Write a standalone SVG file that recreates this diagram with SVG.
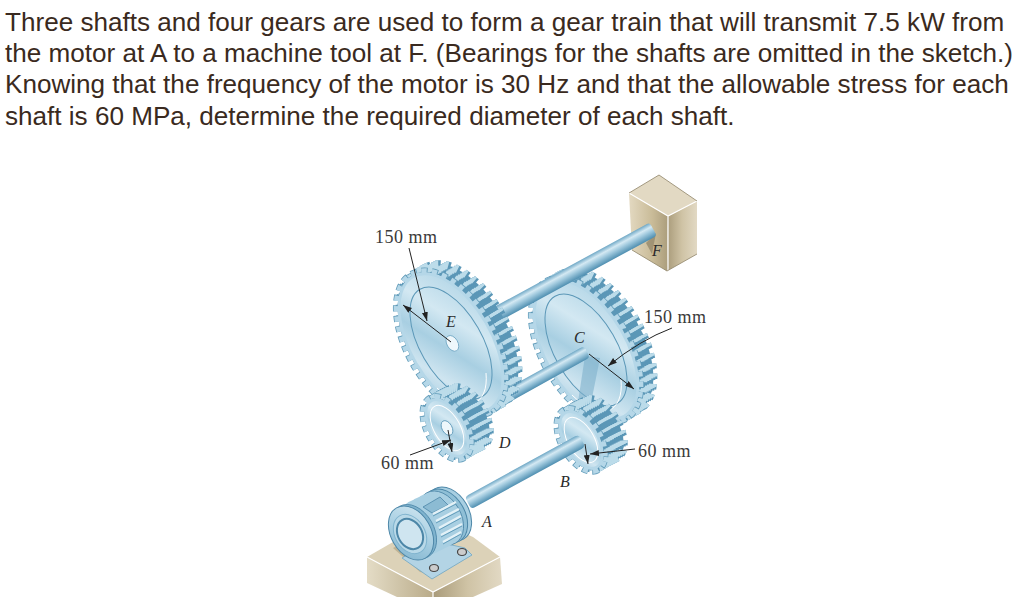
<svg xmlns="http://www.w3.org/2000/svg" xmlns:xlink="http://www.w3.org/1999/xlink" width="1024" height="597" viewBox="0 0 1024 597">
<style>
.h{font:26.1px "Liberation Sans",Arial,sans-serif;fill:#3a2a20}
.l{font:18px "Liberation Serif","Times New Roman",serif;fill:#3a3a3a;letter-spacing:.5px}
.i{font:italic 16px "Liberation Serif","Times New Roman",serif;fill:#2a2a2a}
.dark{fill:#5b97b7;stroke:#5b97b7;stroke-dasharray:1 1}
.land{fill:none;stroke:#bcdcea;stroke-dasharray:.55 1.45}
.edge{fill:#3f7a9c;stroke:#5f9ab8;stroke-dasharray:1.15 .85}
.front{fill:#b5d7e8;stroke:#b5d7e8;stroke-dasharray:1 1}
.annd{fill:none;stroke:#222;stroke-width:1;marker-end:url(#ah)}
</style>
<defs>
<marker id="ah" markerWidth="10" markerHeight="8" refX="9" refY="3" orient="auto" markerUnits="userSpaceOnUse"><path d="M0 0L9 3L0 6z" fill="#222"/></marker>
<linearGradient id="face" x1="0" y1="0" x2="1" y2="1">
<stop offset="0" stop-color="#a9d0e3"/><stop offset=".35" stop-color="#d3e8f2"/><stop offset=".55" stop-color="#a8cfe2"/><stop offset=".75" stop-color="#cfe5f0"/><stop offset="1" stop-color="#9cc6dc"/>
</linearGradient>
<linearGradient id="cyl" x1="0" y1="0" x2="0" y2="1">
<stop offset="0" stop-color="#6fa8c6"/><stop offset=".3" stop-color="#d4e9f3"/><stop offset=".55" stop-color="#a3cbdf"/><stop offset="1" stop-color="#4f8fb1"/>
</linearGradient>
<linearGradient id="sideL" x1="0" y1="0" x2="1" y2="0">
<stop offset="0" stop-color="#e3d9c1"/><stop offset=".6" stop-color="#c9bb98"/><stop offset="1" stop-color="#ab9d7c"/>
</linearGradient>
<linearGradient id="sideR" x1="0" y1="0" x2="1" y2="0">
<stop offset="0" stop-color="#a99b7a"/><stop offset=".5" stop-color="#cfc3a5"/><stop offset="1" stop-color="#e2d9c4"/>
</linearGradient>
<linearGradient id="baseL" x1="0" y1="0" x2="1" y2="0">
<stop offset="0" stop-color="#e4dcc6"/><stop offset="1" stop-color="#b9ab89"/>
</linearGradient>
<linearGradient id="mot" x1="0" y1="0" x2="1" y2="1">
<stop offset="0" stop-color="#d3e8f2"/><stop offset=".5" stop-color="#a8cfe2"/><stop offset="1" stop-color="#7fb3ce"/>
</linearGradient>
<ellipse id="bigT" rx="78" ry="42" transform="rotate(60)" pathLength="76"/>
<ellipse id="smallT" rx="33" ry="18" transform="rotate(60)" pathLength="34"/>
<ellipse id="bigF" rx="75" ry="39" transform="rotate(60)" fill="url(#face)" stroke="none"/>
<ellipse id="smallF" rx="30" ry="15" transform="rotate(60)" fill="url(#face)" stroke="none"/>
<g id="bigStack">
<g class="dark" stroke-width="8">
<use href="#bigT" x="14" y="-8"/><use href="#bigT" x="12" y="-7"/><use href="#bigT" x="10" y="-6"/><use href="#bigT" x="8" y="-4.5"/><use href="#bigT" x="6" y="-3.5"/><use href="#bigT" x="4" y="-2.3"/><use href="#bigT" x="2" y="-1.2"/>
</g>
<g class="land" stroke-width="8">
<use href="#bigT" x="14" y="-8"/><use href="#bigT" x="12" y="-7"/><use href="#bigT" x="10" y="-6"/><use href="#bigT" x="8" y="-4.5"/><use href="#bigT" x="6" y="-3.5"/><use href="#bigT" x="4" y="-2.3"/>
</g>
<use href="#bigT" class="edge" stroke-width="9.5"/>
<use href="#bigT" class="front" stroke-width="8"/>
<use href="#bigF"/>
</g>
<g id="smallStack">
<g class="dark" stroke-width="8">
<use href="#smallT" x="20" y="-11"/><use href="#smallT" x="18" y="-10"/><use href="#smallT" x="16" y="-9"/><use href="#smallT" x="14" y="-8"/><use href="#smallT" x="12" y="-7"/><use href="#smallT" x="10" y="-6"/><use href="#smallT" x="8" y="-4.5"/><use href="#smallT" x="6" y="-3.5"/><use href="#smallT" x="4" y="-2.3"/><use href="#smallT" x="2" y="-1.2"/>
</g>
<g class="land" stroke-width="8">
<use href="#smallT" x="20" y="-11"/><use href="#smallT" x="18" y="-10"/><use href="#smallT" x="16" y="-9"/><use href="#smallT" x="14" y="-8"/><use href="#smallT" x="12" y="-7"/><use href="#smallT" x="10" y="-6"/><use href="#smallT" x="8" y="-4.5"/><use href="#smallT" x="6" y="-3.5"/><use href="#smallT" x="4" y="-2.3"/>
</g>
<use href="#smallT" class="edge" stroke-width="9.5"/>
<use href="#smallT" class="front" stroke-width="8"/>
<use href="#smallF"/>
</g>
<ellipse id="motS" rx="29" ry="20" transform="rotate(60)"/>
</defs>
<rect width="1024" height="597" fill="#fff"/>
<g id="problem-text">
<text class="h" x="5" y="31">Three shafts and four gears are used to form a gear train that will transmit 7.5 kW from</text>
<text class="h" x="5" y="62">the motor at A to a machine tool at F. (Bearings for the shafts are omitted in the sketch.)</text>
<text class="h" x="5" y="93">Knowing that the frequency of the motor is 30 Hz and that the allowable stress for each</text>
<text class="h" x="5" y="125">shaft is 60 MPa, determine the required diameter of each shaft.</text>
</g>
<g id="block-F">
<path d="M629 193L668 216L667 271L632 250Z" fill="url(#sideL)"/>
<path d="M668 216L697 201L697 254L667 271Z" fill="url(#sideR)"/>
<path d="M629 193L659 175L697 201L668 216Z" fill="#e2d9c3"/>
<path d="M629 193L668 216L697 201M668 216V271" fill="none" stroke="#fff" stroke-width="1.2"/>
<path d="M632 250L667 271L697 254M629 193L659 175L697 201" fill="none" stroke="#8f8468" stroke-width=".8"/>
<path d="M646 243L656 233L652 254Z" fill="#8f8265" opacity=".7"/>
</g>
<g id="gear-C" transform="translate(586,350)">
<use href="#bigStack"/>
<ellipse rx="62" ry="31" transform="rotate(60)" fill="none" stroke="#5b97b7" stroke-width="1"/>
<path d="M-14 45A62 31 60 0 0 35 30" fill="none" stroke="#fff" stroke-width="1"/>
<path d="M-8 52L-1 6L14 8L4 58Z" fill="#7fb0cb" opacity=".6"/>
</g>
<g id="shaft-EF"><rect x="0" y="-7.5" width="180" height="15" rx="3" fill="url(#cyl)" transform="translate(495,315) rotate(-28.5)"/></g>
<g id="shaft-CD"><rect x="0" y="-6.5" width="112" height="13" rx="4" fill="url(#cyl)" transform="translate(489,406) rotate(-29)"/></g>
<g id="gear-E" transform="translate(451,343)">
<use href="#bigStack"/>
<ellipse rx="62" ry="31" transform="rotate(60)" fill="none" stroke="#5b97b7" stroke-width="1"/>
<path d="M-14 45A62 31 60 0 0 35 30" fill="none" stroke="#fff" stroke-width="1"/>
<ellipse cx="1" cy="-1" rx="8.5" ry="5.5" transform="rotate(60)" fill="#eef7fb" stroke="#6fa6c3" stroke-width=".8"/>
</g>
<g id="gear-D" transform="translate(447,428)">
<use href="#smallStack"/>
<ellipse rx="25" ry="13" transform="rotate(60)" fill="none" stroke="#fff" stroke-width="1"/>
<ellipse rx="8" ry="5" transform="rotate(60)" fill="#eef7fb" stroke="#5b97b7" stroke-width=".8"/>
</g>
<g id="gear-B" transform="translate(581,440)">
<use href="#smallStack"/>
<ellipse rx="25" ry="13" transform="rotate(60)" fill="none" stroke="#fff" stroke-width="1"/>
</g>
<g id="shaft-AB"><rect x="0" y="-7" width="130" height="14" rx="4" fill="url(#cyl)" transform="translate(468,503) rotate(-28.7)"/></g>
<g id="base">
<path d="M367 557L433 592V597H397L367 583Z" fill="url(#baseL)"/>
<path d="M433 592L500 557L502 584L473 597H433Z" fill="url(#sideR)"/>
<path d="M367 557L433 519L473 537L500 557L433 592Z" fill="#dcd2b8"/>
<path d="M367 557L433 592L500 557M433 592V597" fill="none" stroke="#fff" stroke-width="1.2"/>
<path d="M393 548L408 540L440 575L420 572Z" fill="#a89a78" opacity=".55"/>
</g>
<g id="motor">
<path d="M402 558L432 579L472 555L465 548L430 540Z" fill="#b3d4e5" stroke="#6fa6c3" stroke-width=".8"/>
<ellipse cx="434" cy="568" rx="4.5" ry="3.5" fill="#ccc" stroke="#444" stroke-width="1.2"/>
<ellipse cx="462" cy="552" rx="4.5" ry="3.5" fill="#ccc" stroke="#444" stroke-width="1.2"/>
<use href="#motS" x="449" y="514" fill="#a8cfe2" stroke="#4d87a8" stroke-width="1"/>
<use href="#motS" x="445" y="516" fill="#8fbfd6" stroke="#4d87a8" stroke-width="1"/>
<use href="#motS" x="441" y="518" fill="#a8cfe2" stroke="#4d87a8" stroke-width=".8"/>
<use href="#motS" x="435" y="521" fill="#a8cfe2"/><use href="#motS" x="429" y="524" fill="#a8cfe2"/><use href="#motS" x="423" y="527" fill="#a8cfe2"/>
<path d="M423 507L440 497L448 505L432 513Z" fill="#8cbbd3" stroke="#4d87a8" stroke-width=".8"/>
<path d="M433 514L456 502M436 521L459 509M439 528L461 516M441 535L462 524M443 542L461 532" fill="none" stroke="#e3f1f7" stroke-width="2.4"/>
<path d="M433 516L456 504M436 523L459 511M439 530L461 518M441 537L462 526M443 544L461 534" fill="none" stroke="#5b97b7" stroke-width=".9"/>
<use href="#motS" x="414" y="531.5" fill="#7fb3ce" stroke="#4d87a8" stroke-width=".8"/>
<use href="#motS" x="411" y="533" fill="url(#mot)" stroke="#4d87a8" stroke-width="1"/>
<ellipse cx="410" cy="534" rx="21" ry="15" transform="rotate(60 410 534)" fill="#b9d9e8" stroke="#7fb3ce" stroke-width="1"/>
<ellipse cx="410" cy="534" rx="16" ry="12" transform="rotate(60 410 534)" fill="#cfe5f0" stroke="#4d87a8" stroke-width="2"/>
</g>
<g id="annotations">
<path class="annd" d="M409 248L427 321"/>
<path class="annd" d="M451 342L403 305"/>
<path class="annd" d="M589 354L634 389"/>
<path class="annd" d="M672 328Q640 340 608 366"/>
<path class="annd" d="M410 455L451 440"/>
<path class="annd" d="M448 430L452 452"/>
<path class="annd" d="M635 449L590 454"/>
<path class="annd" d="M585 444L588 464"/>
</g>
<g id="labels">
<text class="l" x="375" y="243">150 mm</text>
<text class="l" x="644" y="323">150 mm</text>
<text class="l" x="381" y="469">60 mm</text>
<text class="l" x="638" y="457">60 mm</text>
<text class="i" x="446" y="327">E</text>
<text class="i" x="652" y="256">F</text>
<text class="i" x="574" y="343">C</text>
<text class="i" x="499" y="448">D</text>
<text class="i" x="560" y="487">B</text>
<text class="i" x="482" y="527">A</text>
</g>
</svg>
